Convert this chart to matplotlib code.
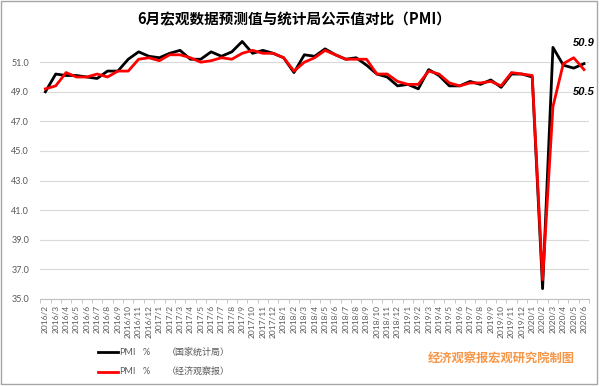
import numpy as np
import matplotlib
matplotlib.use("Agg")
import matplotlib.pyplot as plt
from matplotlib.patches import Rectangle

plt.rcParams['font.family'] = ['Noto Sans CJK SC', 'DejaVu Sans']

# 月份标签 2016/2 .. 2020/6
months = ([f"2016/{m}" for m in range(2, 13)] +
          [f"2017/{m}" for m in range(1, 13)] +
          [f"2018/{m}" for m in range(1, 13)] +
          [f"2019/{m}" for m in range(1, 13)] +
          [f"2020/{m}" for m in range(1, 7)])

# 国家统计局公布值
pmi_nbs = [49.0, 50.2, 50.1, 50.1, 50.0, 49.9, 50.4, 50.4, 51.2, 51.7, 51.4,
           51.3, 51.6, 51.8, 51.2, 51.2, 51.7, 51.4, 51.7, 52.4, 51.6, 51.8, 51.6,
           51.3, 50.3, 51.5, 51.4, 51.9, 51.5, 51.2, 51.3, 50.8, 50.2, 50.0, 49.4,
           49.5, 49.2, 50.5, 50.1, 49.4, 49.4, 49.7, 49.5, 49.8, 49.3, 50.2, 50.2,
           50.0, 35.7, 52.0, 50.8, 50.6, 50.9]

# 经济观察报预测值
pmi_eeo = [49.2, 49.4, 50.3, 50.0, 50.0, 50.2, 50.0, 50.4, 50.4, 51.2, 51.3,
           51.1, 51.5, 51.5, 51.3, 51.0, 51.1, 51.3, 51.2, 51.6, 51.8, 51.6, 51.6,
           51.3, 50.4, 51.0, 51.3, 51.8, 51.5, 51.2, 51.2, 51.2, 50.2, 50.2, 49.7,
           49.5, 49.5, 50.4, 50.2, 49.6, 49.4, 49.6, 49.6, 49.7, 49.4, 50.3, 50.2,
           50.1, 36.3, 48.0, 50.9, 51.3, 50.5]

yticks = [35, 37, 39, 41, 43, 45, 47, 49, 51]

fig = plt.figure(figsize=(6.0, 3.86), dpi=100)
fig.patches.append(Rectangle((0.002, 0.006), 0.993, 0.992, transform=fig.transFigure,
                             fill=False, edgecolor="#A6A6A6", lw=1.0))

ax = fig.add_axes([0.067, 0.2254, 0.915, 0.671])
x = np.arange(len(months))
ax.plot(x, pmi_nbs, color="black", lw=2.0, solid_joinstyle="round", zorder=3)
ax.plot(x, pmi_eeo, color="#FF0000", lw=2.0, solid_joinstyle="round", zorder=4)

ax.set_xlim(-0.5, len(months) - 0.5)
ax.set_ylim(35, 52.5)
ax.set_yticks(yticks)
ax.set_yticklabels([f"{v:.1f}" for v in yticks], fontsize=6.5, color="#595959",
                   family=["Lato", "DejaVu Sans"])
ax.yaxis.grid(True, color="#D9D9D9", lw=0.8)
ax.set_axisbelow(True)
ax.tick_params(axis="y", length=0, pad=8)

ax.set_xticks(x)
ax.set_xticklabels(months, rotation=90, fontsize=6.0, color="#595959",
                   family=["Lato", "DejaVu Sans"])
ax.set_xticks(np.arange(-0.5, len(months)), minor=True)
ax.tick_params(axis="x", which="major", length=0, pad=4)
ax.tick_params(axis="x", which="minor", length=3, color="#BFBFBF")

for s in ["top", "right", "left"]:
    ax.spines[s].set_visible(False)
ax.spines["bottom"].set_color("#BFBFBF")

# 末端数值标注
ax.annotate(f"{pmi_nbs[-1]:.1f}", (x[-1], pmi_nbs[-1]), xytext=(8, 15),
            textcoords="offset points", ha="right", va="center", fontsize=8,
            fontweight="bold", fontstyle="italic", family=["Liberation Sans"])
ax.annotate(f"{pmi_eeo[-1]:.1f}", (x[-1], pmi_eeo[-1]), xytext=(8, -16),
            textcoords="offset points", ha="right", va="center", fontsize=8,
            fontweight="bold", fontstyle="italic", family=["Liberation Sans"])

fig.text(0.49, 0.951, "6月宏观数据预测值与统计局公示值对比（PMI）", ha="center", va="center",
         fontsize=10.5, fontweight="bold")

# 图例
for yy, col, src in [(0.088, "black", "（国家统计局）"), (0.037, "#FF0000", "（经济观察报）")]:
    fig.add_artist(plt.Line2D([0.163, 0.197], [yy, yy], color=col, lw=2.0,
                              transform=fig.transFigure))
    fig.text(0.199, yy, "PMI", fontsize=6.5, color="#595959", va="center",
             family=["Lato", "DejaVu Sans"])
    fig.text(0.238, yy, "%", fontsize=6.5, color="#595959", va="center",
             family=["Lato", "DejaVu Sans"])
    fig.text(0.278, yy, src, fontsize=6.5, color="#595959", va="center")

fig.text(0.835, 0.068, "经济观察报宏观研究院制图", ha="center", va="center",
         fontsize=8.8, color="#F79646", fontweight="bold")

fig.savefig("out.png", dpi=100)
